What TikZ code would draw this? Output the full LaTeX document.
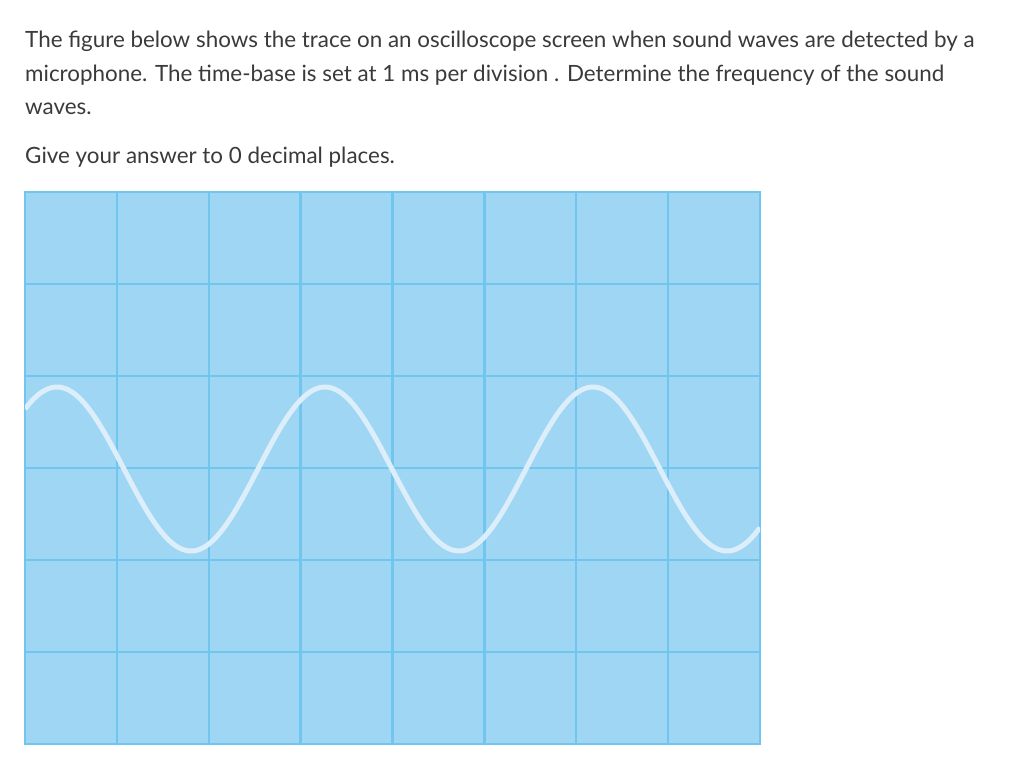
\documentclass[tikz,border=0pt]{standalone}
\usepackage{fontspec}
\setmainfont{Lato}
\usepackage{tikz}
\usetikzlibrary{calc}
\definecolor{schirm}{HTML}{9FD6F3}
\definecolor{raster}{HTML}{70C6EE}
\definecolor{spur}{HTML}{DCEEFA}
\definecolor{schrift}{HTML}{3A3A3A}

\begin{document}
\begin{tikzpicture}[x=1pt,y=-1pt,
		zeile/.style={anchor=base west,inner sep=0pt,text=schrift,font=\fontsize{22.4}{33.5}\selectfont}]
		\useasboundingbox (0,0) rectangle (1024,775);
		\coordinate (o1) at (25,192);
		\coordinate (o2) at (760,744);
		
		%text (base = letzte zeile)
		\node[zeile,align=left] (frage) at (25,115) {The figure below shows the trace on an oscilloscope screen when sound waves are detected by a\\
			microphone. The time-base is set at 1 ms per division . Determine the frequency of the sound\\
			waves.};
		\node[zeile] (hinweis) at (25,164) {Give your answer to 0 decimal places.};
		
		%schirm
		\fill[schirm] (o1) rectangle (o2);
		\foreach \i in {1,...,7}{
			\draw[raster,line width=2.4pt] ($(o1)+(\i*91.875,0)$) -- ++(0,552);
		}
		\foreach \j in {1,...,5}{
			\draw[raster,line width=2.4pt] ($(o1)+(0,\j*92)$) -- ++(735,0);
		}
		\draw[raster,line width=2.4pt] (o1) rectangle (o2);
		
		%spur
		\begin{scope}
			\clip (o1) rectangle (o2);
			\draw[spur,line width=5pt] plot[domain=25:760,samples=160,smooth] (\x,{469-82*cos((\x-57)/268*360)});
		\end{scope}
		
\end{tikzpicture}
\end{document}
